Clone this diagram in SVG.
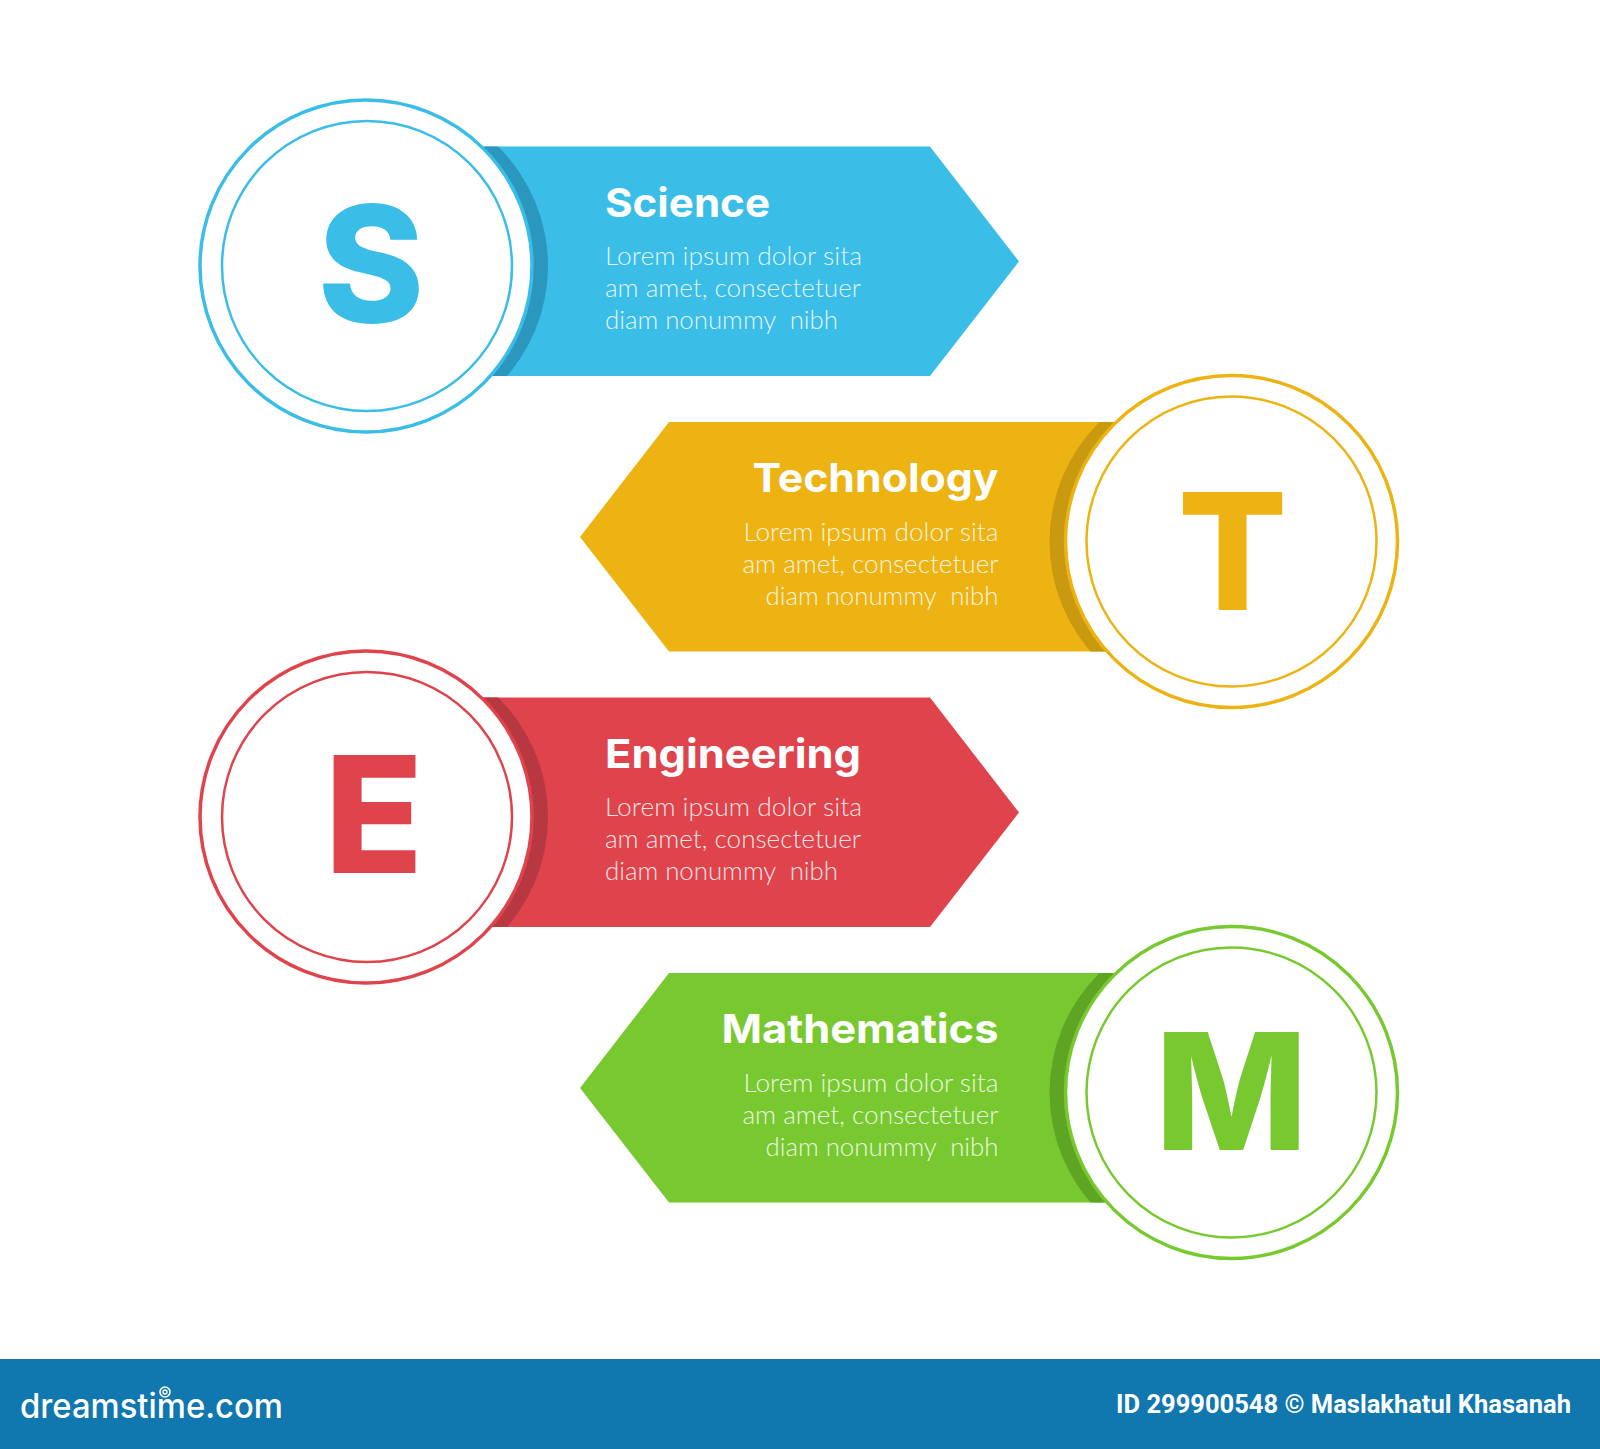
<svg xmlns="http://www.w3.org/2000/svg" width="1600" height="1449" viewBox="0 0 1600 1449">
  <style>
    .title { font-family: Inter, "Open Sans", "Liberation Sans", sans-serif; font-weight: 700; font-size: 40px; fill: #ffffff; }
    .body { font-family: Lato, "Open Sans", "Liberation Sans", sans-serif; font-weight: 300; font-size: 25px; fill: #ffffff; fill-opacity: 0.88; white-space: pre; }
    .letter { font-family: Inter, "Open Sans", "Liberation Sans", sans-serif; font-weight: 800; font-size: 162px; text-anchor: middle; }
    .ring-o { fill: #ffffff; stroke-width: 3.5; }
    .ring-i { fill: none; stroke-width: 2.5; }
    .end { text-anchor: end; }
    .foot { font-family: Roboto, "Liberation Sans", sans-serif; font-weight: 700; fill: #ffffff; }
  </style>
  <defs>
    <clipPath id="clipS"><polygon points="366,146.5 930,146.5 1019,261.5 930,376 366,376"/></clipPath>
    <clipPath id="clipT"><polygon points="1231,422 669,422 580,537 669,651.5 1231,651.5"/></clipPath>
    <clipPath id="clipE"><polygon points="366,697.5 930,697.5 1019,812.5 930,927 366,927"/></clipPath>
    <clipPath id="clipM"><polygon points="1231,973 669,973 580,1088 669,1202.5 1231,1202.5"/></clipPath>
  </defs>
  <rect x="0" y="0" width="1600" height="1449" fill="#ffffff"/>

  <g id="node-science">
    <polygon points="366,146.5 930,146.5 1019,261.5 930,376 366,376" fill="#3ABDE6"/>
    <circle cx="380" cy="266" r="168" fill="#2B97BF" clip-path="url(#clipS)"/>
    <circle class="ring-o" cx="366" cy="266" r="166" stroke="#3ABDE6"/>
    <circle class="ring-i" cx="367" cy="266" r="145" stroke="#3ABDE6"/>
    <text class="letter" x="371" y="322" fill="#3ABDE6">S</text>
    <text class="title" x="605" y="216.5" textLength="165" lengthAdjust="spacingAndGlyphs">Science</text>
    <text class="body" x="605" y="265" textLength="257" lengthAdjust="spacingAndGlyphs">Lorem ipsum dolor sita</text>
    <text class="body" x="605" y="297" textLength="256" lengthAdjust="spacingAndGlyphs">am amet, consectetuer</text>
    <text class="body" x="605" y="329" textLength="233" lengthAdjust="spacingAndGlyphs">diam nonummy  nibh</text>
  </g>

  <g id="node-technology">
    <polygon points="1231,422 669,422 580,537 669,651.5 1231,651.5" fill="#ECB313"/>
    <circle cx="1217.5" cy="541.5" r="168" fill="#C99A10" clip-path="url(#clipT)"/>
    <circle class="ring-o" cx="1231.5" cy="541.5" r="166" stroke="#ECB313"/>
    <circle class="ring-i" cx="1231.5" cy="541.5" r="145" stroke="#ECB313"/>
    <text class="letter" x="1232.5" y="610" fill="#ECB313">T</text>
    <text class="title end" x="998.5" y="492" textLength="246" lengthAdjust="spacingAndGlyphs">Technology</text>
    <text class="body end" x="998.5" y="540.5" textLength="255" lengthAdjust="spacingAndGlyphs">Lorem ipsum dolor sita</text>
    <text class="body end" x="998.5" y="572.5" textLength="256" lengthAdjust="spacingAndGlyphs">am amet, consectetuer</text>
    <text class="body end" x="998.5" y="604.5" textLength="233" lengthAdjust="spacingAndGlyphs">diam nonummy  nibh</text>
  </g>

  <g id="node-engineering">
    <polygon points="366,697.5 930,697.5 1019,812.5 930,927 366,927" fill="#DF444C"/>
    <circle cx="380" cy="817" r="168" fill="#B73840" clip-path="url(#clipE)"/>
    <circle class="ring-o" cx="366" cy="817" r="166" stroke="#DF444C"/>
    <circle class="ring-i" cx="367" cy="817" r="145" stroke="#DF444C"/>
    <text class="letter" x="374" y="873" fill="#DF444C">E</text>
    <text class="title" x="605" y="767.5" textLength="256" lengthAdjust="spacingAndGlyphs">Engineering</text>
    <text class="body" x="605" y="816" textLength="257" lengthAdjust="spacingAndGlyphs">Lorem ipsum dolor sita</text>
    <text class="body" x="605" y="848" textLength="256" lengthAdjust="spacingAndGlyphs">am amet, consectetuer</text>
    <text class="body" x="605" y="880" textLength="233" lengthAdjust="spacingAndGlyphs">diam nonummy  nibh</text>
  </g>

  <g id="node-mathematics">
    <polygon points="1231,973 669,973 580,1088 669,1202.5 1231,1202.5" fill="#78C92F"/>
    <circle cx="1217.5" cy="1092.5" r="168" fill="#5EA524" clip-path="url(#clipM)"/>
    <circle class="ring-o" cx="1231.5" cy="1092.5" r="166" stroke="#78C92F"/>
    <circle class="ring-i" cx="1231.5" cy="1092.5" r="145" stroke="#78C92F"/>
    <text class="letter" x="1231.5" y="1150" fill="#78C92F">M</text>
    <text class="title end" x="998.5" y="1043" textLength="277" lengthAdjust="spacingAndGlyphs">Mathematics</text>
    <text class="body end" x="998.5" y="1091.5" textLength="255" lengthAdjust="spacingAndGlyphs">Lorem ipsum dolor sita</text>
    <text class="body end" x="998.5" y="1123.5" textLength="256" lengthAdjust="spacingAndGlyphs">am amet, consectetuer</text>
    <text class="body end" x="998.5" y="1155.5" textLength="233" lengthAdjust="spacingAndGlyphs">diam nonummy  nibh</text>
  </g>

  <g id="connectors"></g>

  <g id="footer">
    <rect x="0" y="1359" width="1600" height="90" fill="#1177AF"/>
    <text class="foot" x="20" y="1418" font-size="34" font-weight="400" textLength="263" lengthAdjust="spacingAndGlyphs" style="font-family: Inter, 'Liberation Sans', sans-serif; font-weight: 500;">dreamstime.com</text>
    <circle cx="165" cy="1392" r="5" fill="none" stroke="#ffffff" stroke-width="1.6"/>
    <circle cx="165" cy="1392" r="2" fill="none" stroke="#ffffff" stroke-width="1.4"/>
    <text class="foot" x="1116" y="1413" font-size="26" textLength="455" lengthAdjust="spacingAndGlyphs">ID 299900548 © Maslakhatul Khasanah</text>
  </g>
</svg>
